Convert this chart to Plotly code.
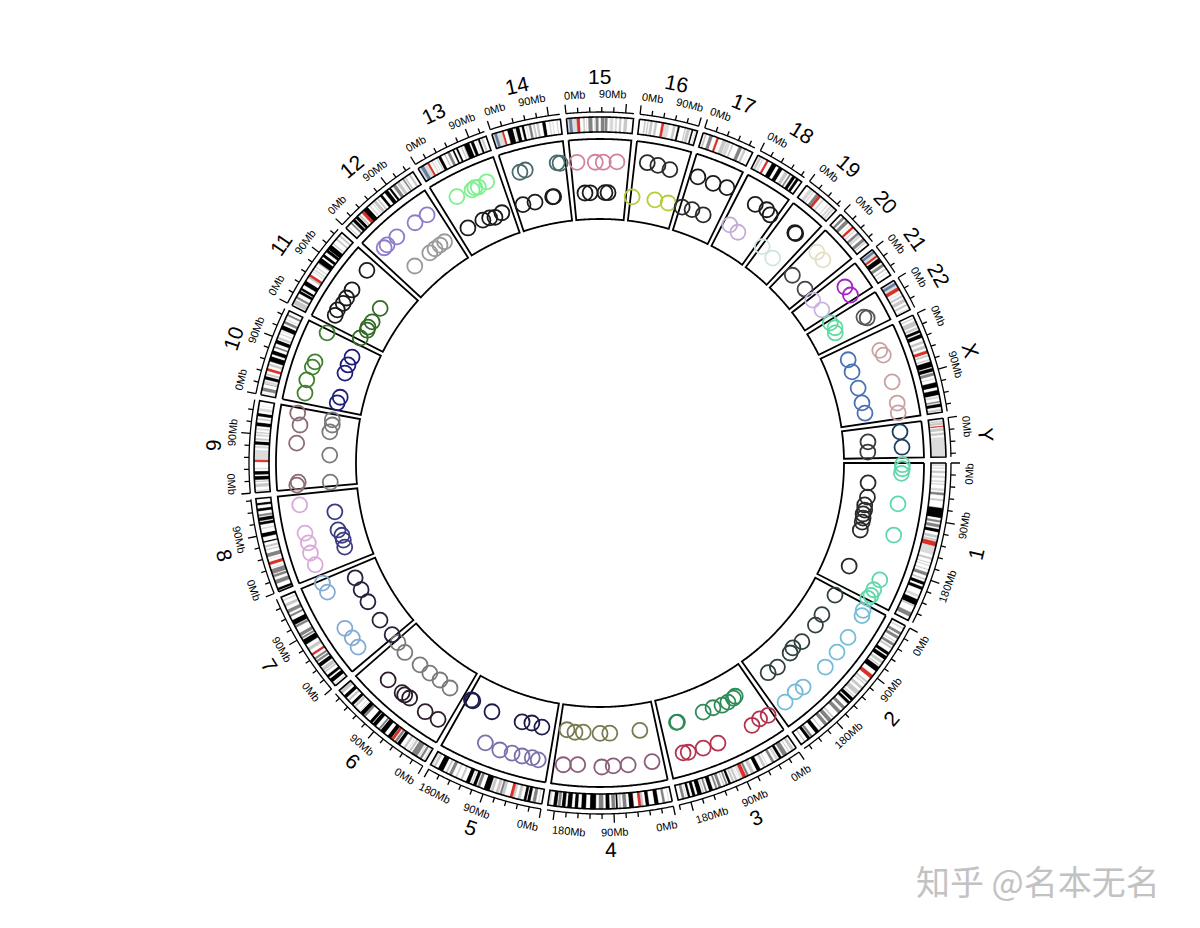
import numpy as np
import plotly.graph_objects as go

# chromosome layout (hg19, Mb)
chrom_names = [str(i) for i in range(1, 23)] + ['X', 'Y']
chrom_len = [249.25, 243.2, 198.02, 191.15, 180.92, 171.12, 159.14, 146.36, 141.21,
             135.53, 135.01, 133.85, 115.17, 107.35, 102.53, 90.35, 81.2, 78.08,
             59.13, 63.03, 48.13, 51.3, 155.27, 59.37]
gap_deg = 1.0

stain_colors = {'n': '#FFFFFF', '25': '#D8D8D8', '50': '#C8C8C8', '75': '#828282',
                '100': '#000000', 'a': '#D92F27', 'v': '#DCDCDC', 's': '#647FA4'}

# cytobands as "end:stain" tokens per chromosome
cytobands = [
    "2.3:n 5.3:25 7.1:n 9.1:25 12.5:n 15.9:50 20.1:n 23.6:25 27.6:n 30:25 32:n 34.3:25 39.6:n 43.7:25 46:n 50:75 56:n 59:50 68.9:n 69.7:50 84.9:100 88.4:n 92:75 94.7:n 99.7:75 102.2:n 107.2:100 111.8:n 116.1:50 117.8:n 120.7:50 121.5:n 128.9:a 142.6:v 147:n 150.3:50 155:n 156.5:50 159.1:n 160.5:50 165.5:n 167.2:50 170.9:n 176:75 180.3:n 182.9:50 185.8:n 190.8:100 193.8:n 198.7:100 207.2:n 211.5:25 214.5:n 224.1:100 224.6:n 227:50 236.6:n 243.7:75 249.25:n",
    "4.4:n 7.1:25 12.2:n 16.7:75 19.2:n 24:75 27.9:n 30:25 32.1:n 36.6:75 38.6:n 41.8:50 47.8:n 52.9:100 55:n 61.3:100 64.1:n 68.6:50 71.5:n 73.5:50 75:n 83.3:100 90.5:n 96.8:a 102.7:n 106:50 107.5:n 110.3:25 114.4:n 118.8:50 122.4:n 129.9:50 132.5:n 135.1:25 136.8:n 142.2:100 144.1:n 148.7:100 149.9:n 150.5:25 154.9:n 159.9:75 163.7:n 169.7:75 178:n 180.6:50 183:n 189.4:75 191.9:n 197.4:75 203.3:n 204.9:50 209:n 215.3:100 221.5:n 225.2:75 226.1:n 231:100 235.1:n 237.3:50 243.2:n",
    "4:n 8.7:50 11.8:n 13.3:50 16.4:n 23.9:75 26.4:n 30.9:100 32.1:n 36.5:25 39.4:n 43.7:75 44.1:n 44.2:25 50.6:n 52.3:25 54.4:n 58.6:50 63.7:n 69.8:100 74.2:n 79.8:50 83.5:n 87.2:75 87.9:n 93.9:a 98.3:v 100:n 100.9:25 102.8:n 106.2:50 107.9:n 111.3:50 113.5:n 117.3:100 119:n 121.9:75 123.8:n 125.8:50 129.2:n 133.7:75 135.7:n 138.7:75 142.8:n 148.9:100 152.1:n 155:75 157:n 159:50 160.7:n 167.6:100 170.9:n 175.7:100 179:n 182.7:100 184.5:n 186:25 187.9:n 192.3:75 198.02:n",
    "4.5:n 6:25 11.3:n 15.2:75 21.3:n 27.7:100 35.8:n 41.2:100 44.6:n 48.2:50 52.7:a 59.5:n 66.6:100 70.5:n 76.3:75 78.9:n 82.4:50 84.1:n 86.9:100 88:n 93.7:75 96.8:n 102.8:100 106.2:n 113.4:75 117.6:n 126.8:100 132.9:n 140.1:100 145.1:n 150.3:100 154.6:n 161.6:100 164.5:n 170.1:100 171.9:n 176.3:75 177.5:n 183.2:100 187.1:n 191.15:25",
    "4.5:n 6.3:25 9.8:n 15:75 18.4:n 23.3:100 24.6:n 28.9:100 33.8:n 38.4:50 42.5:n 46.1:50 50.7:a 58.9:n 62.9:50 63.2:n 66.7:75 68.4:n 73.3:50 76.9:n 81.4:50 82.8:n 92.3:100 98.2:n 102.8:75 104.5:n 109.6:100 111.5:n 113.1:50 115.2:n 121.4:100 127.3:n 130.6:50 136.2:n 139.5:25 144.5:n 149.8:75 152.7:n 155.7:50 159.9:n 168.5:100 172.8:n 176.6:50 177.6:n 180.92:25",
    "2.3:n 4.2:25 7.1:n 10.6:75 11.6:n 13.4:25 15.2:n 25.2:75 27:n 30.4:50 32.1:n 33.5:25 36.6:n 40.5:50 46.2:n 51.8:100 52.9:n 57:75 58.7:n 63.3:a 63.4:n 70:100 75.9:n 83.9:100 84.9:n 88:75 93.1:n 99.5:100 100.6:n 105.5:100 114.6:n 118.3:75 118.4:n 125.1:100 126.1:n 127.1:50 130.3:n 131.2:25 135.2:n 139:50 140.3:n 145:100 149:n 152.5:50 155.5:n 161:100 164.5:n 171.12:50",
    "2.8:n 4.5:25 7.3:n 13.8:100 16.5:n 20.9:100 25.5:n 28:50 28.8:n 35:50 37.2:n 43.3:100 45.4:n 49:75 50.5:n 54:75 58:n 61.7:a 67:n 72.2:50 77.5:n 86.4:100 88.2:n 91.1:75 92.8:n 98:75 107.4:n 111.2:75 112.2:n 120.4:100 126.1:n 129.4:75 132.6:n 138.2:75 143.1:n 147.9:50 152.6:n 155.1:25 159.14:n",
    "2.2:n 6.2:100 12.7:n 19:75 23.3:n 27.4:75 28.8:n 36.5:75 38.3:n 39.7:25 43.1:n 48.1:a 52.2:n 52.6:50 55.5:n 61.6:75 66:n 68:50 70.5:n 73.9:50 78.5:n 80.6:100 86.9:n 93.3:100 99:n 101.6:25 106.2:n 110.5:100 112.1:n 117.7:100 119.2:n 122.5:75 127.3:n 131.5:100 136.4:n 139.9:100 146.36:n",
    "2.2:n 4.6:25 9:n 14.2:50 16.6:n 18.5:50 19.9:n 25.6:100 28:n 33.2:100 36.3:n 38.4:25 47.3:n 50.7:a 65.9:v 68.7:n 72.2:25 74:n 79.2:100 81.1:n 84.1:50 86.9:n 90.4:25 91.8:n 93.9:50 96.6:n 99.3:25 102.6:n 108.2:100 112.1:n 114.9:50 117.7:n 122.5:100 125.8:n 130.3:25 133.5:n 134:25 141.21:n",
    "3:n 3.8:25 6.6:n 12.2:75 17.3:n 18.6:75 18.7:n 22.6:25 24.6:n 29.6:100 31.3:n 34.4:50 38:n 42.3:a 46.1:n 49.9:50 52.9:n 61.2:100 64.5:n 70.6:100 74.9:n 77.7:75 82:n 87.9:100 89.5:n 92.9:50 97:n 99.3:25 101.9:n 103:25 104.9:n 111.8:100 114.9:n 119.1:75 121.7:n 123.1:25 127.5:n 130.6:75 135.53:n",
    "2.8:n 10.7:50 12.7:n 16.2:75 21.7:n 26.1:100 27.2:n 31:100 36.4:n 43.5:100 48.8:n 51.6:50 55.7:a 59.9:n 61.7:25 63.4:n 65.9:25 68.4:n 70.4:25 75.2:n 77.1:50 85.6:100 88.3:n 92.8:100 97.2:n 102.1:100 102.4:n 110.6:100 112.7:n 114.5:50 121.2:n 123.9:50 127.8:n 130.8:50 135.01:n",
    "3.3:n 5.4:25 10.1:n 12.8:75 14.8:n 20:100 21.3:n 26.3:100 27.7:n 30.7:50 33.3:n 38.2:a 46.4:100 49.1:n 51.5:25 54.9:n 56.6:25 58.1:n 63.1:50 65.1:n 67.7:50 71.5:n 75.7:100 80.3:n 86.7:100 89:n 92.6:100 96.2:n 101.6:75 103.8:n 109:50 111.7:n 112.3:50 114.3:n 116.8:75 118.1:n 120.7:50 125.9:n 129.3:50 133.85:n",
    "4.5:v 10:s 16.3:v 19.5:a 23.3:n 25.5:25 27.8:n 28.9:25 32.2:n 34:50 35.5:n 40.1:100 45.2:n 47.7:50 50.9:n 55.3:75 59.6:n 62.3:100 65.7:n 68.6:100 73.3:n 75.4:50 77.2:n 79:50 87.7:100 90:n 95:100 98.2:n 99.3:25 101.7:n 104.8:100 107:n 110.3:50 115.17:n",
    "3.7:v 8.1:s 16.1:v 19.1:a 24.6:n 33.3:100 35.3:n 36.6:50 37.8:n 43.5:100 47.2:n 50.9:100 54.1:n 55.5:25 58.1:n 62.1:75 64.8:n 67.9:50 70.2:n 73.8:50 79.3:n 84.4:100 89.8:n 91.9:25 94.7:n 96.3:25 101.4:n 102.9:50 107.35:n",
    "3.9:v 8.7:s 15.8:v 20.7:a 25.7:n 28.1:50 30.3:n 31.2:25 33.6:n 40.1:75 42.8:n 43.6:25 44.8:n 49.5:75 52.9:n 58.8:75 59:n 63.4:75 66.9:n 67:25 67.2:n 72.4:25 74.9:n 78:25 81.4:n 84.7:50 88.5:n 93.8:50 98:n 102.53:n",
    "7.9:n 10.5:50 12.6:n 14.8:50 16.8:n 21.2:50 24.2:n 28.1:50 34.6:n 38.6:a 47:v 52.6:n 56.7:50 60:n 63.1:100 70.8:n 72.9:50 74.1:n 79.2:50 81.7:n 84.2:100 87.1:n 88.7:25 90.35:n",
    "3.3:n 6.5:50 10.7:n 16:75 22.2:n 25.8:a 31.8:n 38.1:50 38.5:n 44.9:25 47.4:n 50.2:50 58.6:n 64.2:75 67.1:n 70.9:50 74.8:n 75.3:25 81.2:n",
    "2.9:n 7.1:50 8.5:n 10.9:25 15.4:n 19:a 25:n 32.7:100 37.2:n 43.5:100 48.2:n 53.8:50 56.2:n 59:75 61.6:n 66.8:100 68.7:n 73.1:100 78.08:n",
    "6.9:n 12.6:25 13.8:n 16.1:25 19.8:n 24.4:75 28.6:a 32.4:n 35.5:25 38.3:n 38.7:25 43.4:n 45.2:25 48:n 51.4:25 52.6:n 56.3:25 59.13:n",
    "5.1:n 9.2:75 12.1:n 17.9:75 21.3:n 22.3:25 25.6:n 29.4:a 32.1:n 34.4:25 37.6:n 41.7:75 42.1:n 46.4:25 49.8:n 55:75 56.5:n 58.4:50 63.03:n",
    "2.8:v 6.8:s 10.9:v 14.3:a 16.4:n 24:100 26.8:n 31.5:75 35.3:n 37.6:50 41.4:n 42.6:25 48.13:n",
    "3.8:v 8.3:s 12.2:v 17.9:a 22.2:n 23.5:25 25.9:n 29.6:50 32.2:n 37.6:50 41:n 44.2:50 48.4:n 49.4:50 51.3:n",
    "4.3:n 6:50 9.5:n 17.1:50 19.3:n 23:50 24.9:n 29.3:100 31.5:n 37.6:100 42.4:n 46.4:50 49.8:n 54.8:50 58.1:n 63:a 64.6:n 67.8:50 71.8:n 74.1:50 76:n 84.6:100 86.2:n 91.8:100 93.5:n 98.3:75 102.6:n 103.7:50 108.7:n 116.5:100 120.9:n 128.7:100 130.4:n 133.6:25 138:n 140.3:75 142.1:n 147.1:100 150.3:n 153.6:50 155.27:n",
    "2.5:n 3:50 3.8:n 6.1:50 6.6:n 10.1:50 11.6:n 13.4:a 15.1:n 19.8:50 22.1:n 26.2:50 28.8:n 59.37:v",
]

# scatter track: two groups per chromosome (position Mb, value 0..1 within the track)
inner_col = ['#2A2A2A', '#2F4040', '#2E8B57', '#7A7A50', '#1C1C4C', '#7A7A7A', '#22223E', '#3C3C82',
             '#7A7A7A', '#1E1E7A', '#346A26', '#9A9A9A', '#1A1A1A', '#1A1A1A', '#1A1A1A', '#B8CC3A',
             '#2A2A2A', '#C4ACD4', '#CFE6DE', '#444444', '#CAB4E2', '#5EDCA2', '#4A72B4', '#3A3A3A']
inner_pos = [[39, 67, 83, 93, 101, 109, 117, 133, 207], [12, 58, 82, 124, 145, 156, 193, 214],
             [41, 46, 59, 72, 90, 111, 165, 167], [33, 92, 111, 144, 160, 176],
             [25, 46, 65, 127, 170, 173], [31, 56, 80, 105, 143, 166], [5, 42, 85, 112, 138],
             [33, 47, 57, 69, 105], [8, 61, 106, 120, 130], [14, 26, 74, 91, 108],
             [4, 24, 30, 43, 74], [37, 76, 89, 101, 112], [22, 55, 69, 79, 95], [15, 39, 75, 77],
             [22, 32, 61, 67], [3, 48, 75], [4, 24, 48], [13, 34], [2, 32], [15, 52], [6, 32],
             [5, 18, 27], [25, 50, 84, 114, 135], [27, 47]]
inner_val = [[0.31, 0.32, 0.30, 0.31, 0.30, 0.31, 0.31, 0.31, 0.32], [0.32, 0.31, 0.32, 0.32, 0.29, 0.31, 0.33, 0.31],
             [0.32, 0.33, 0.34, 0.34, 0.32, 0.32, 0.33, 0.33], [0.33, 0.33, 0.33, 0.32, 0.33, 0.31],
             [0.33, 0.31, 0.33, 0.34, 0.32, 0.32], [0.33, 0.32, 0.33, 0.33, 0.35, 0.33], [0.32, 0.33, 0.33, 0.33, 0.33],
             [0.31, 0.30, 0.30, 0.33, 0.32], [0.33, 0.33, 0.35, 0.33, 0.34], [0.32, 0.30, 0.33, 0.33, 0.32],
             [0.33, 0.30, 0.31, 0.30, 0.31], [0.33, 0.33, 0.33, 0.33, 0.33], [0.32, 0.32, 0.31, 0.29, 0.31],
             [0.32, 0.31, 0.33, 0.33], [0.33, 0.33, 0.33, 0.33], [0.30, 0.31, 0.31], [0.31, 0.32, 0.31],
             [0.34, 0.31], [0.33, 0.30], [0.31, 0.31], [0.30, 0.32], [0.32, 0.34, 0.31],
             [0.31, 0.30, 0.31, 0.31, 0.32], [0.31, 0.30]]
outer_col = ['#5FD8AA', '#74BCD8', '#B4324C', '#8C5C7C', '#7C70AA', '#2C1C2C', '#82AAD2', '#DAAADA',
             '#8C6C72', '#408030', '#1A1A1A', '#8E7CCA', '#7EF08E', '#4A6A6C', '#D2829A', '#2A2A2A',
             '#1A1A1A', '#1A1A1A', '#1A1A1A', '#E6DEC6', '#A424C4', '#555555', '#C8A2A2', '#1E3C5C']
outer_pos = [[3, 10, 18, 72, 127, 209, 229, 240, 247], [11, 20, 65, 97, 130, 182, 198, 223],
             [8, 24, 41, 108, 135, 162, 171], [20, 62, 88, 108, 150, 175],
             [19, 30, 48, 66, 88, 116], [18, 44, 80, 90, 96, 129], [26, 45, 66, 136, 154],
             [20, 42, 60, 78, 128], [7, 12, 80, 112, 132], [18, 41, 65, 75, 130],
             [19, 29, 44, 55, 72, 115], [20, 27, 49, 89, 114], [32, 61, 67, 73, 90], [26, 36, 93, 98],
             [11, 43, 57, 81], [22, 41, 63], [14, 43, 68], [35, 57, 67], [33, 35], [16, 33], [22, 39],
             [27, 31], [31, 41, 90, 128, 145], [14, 41]]
outer_val = [[0.73, 0.73, 0.72, 0.71, 0.73, 0.74, 0.72, 0.72, 0.70], [0.72, 0.74, 0.74, 0.74, 0.75, 0.73, 0.71, 0.73],
             [0.74, 0.72, 0.74, 0.75, 0.74, 0.73, 0.72], [0.74, 0.74, 0.74, 0.75, 0.73, 0.75],
             [0.74, 0.73, 0.74, 0.74, 0.75, 0.73], [0.74, 0.75, 0.73, 0.74, 0.74, 0.74], [0.75, 0.74, 0.75, 0.72, 0.73],
             [0.73, 0.74, 0.73, 0.74, 0.74], [0.75, 0.73, 0.75, 0.73, 0.78], [0.74, 0.76, 0.74, 0.73, 0.73],
             [0.74, 0.75, 0.73, 0.73, 0.73, 0.73], [0.76, 0.76, 0.75, 0.74, 0.73], [0.73, 0.72, 0.73, 0.72, 0.74],
             [0.72, 0.73, 0.74, 0.73], [0.72, 0.71, 0.71, 0.72], [0.75, 0.74, 0.72], [0.73, 0.72, 0.74],
             [0.72, 0.74, 0.71], [0.72, 0.72], [0.73, 0.72], [0.72, 0.72], [0.72, 0.75],
             [0.72, 0.74, 0.74, 0.74, 0.73], [0.72, 0.73]]

tick_minor = 18
tick_major = 90

# radii in pixels (radial axis 0..400)
R_TRACK_IN, R_TRACK_OUT = 244, 324
R_IDEO_IN, R_IDEO_OUT = 331, 346
R_AXIS = 351
R_TICKLAB = 369
R_NAME = 387
TICK_FONT = 11
FONT = 'Liberation Sans, Arial, sans-serif'

# centre of the circle inside the figure (page body adds an 8px offset)
CX, CY = 592, 455

total = sum(chrom_len)
deg_per_mb = (360 - gap_deg * len(chrom_len)) / total
starts = []
acc = 0.0
for L in chrom_len:
    starts.append(acc)
    acc += L * deg_per_mb + gap_deg


def ang(i, mb):
    return starts[i] + mb * deg_per_mb


def text_angle(theta):
    a = (theta + 90) % 360
    if a > 180:
        a -= 360
    if a > 90:
        a -= 180
    elif a <= -90:
        a += 180
    return a


def text_half_deg(txt, size, r):
    em = {'M': .833}
    w = sum(em.get(c, .556) for c in txt) * size
    return np.rad2deg(w / 2 / r)


fig = go.Figure()

# cytoband bars
th, wd, cols = [], [], []
for i, s in enumerate(cytobands):
    prev = 0.0
    for tok in s.split():
        end, st = tok.split(':')
        end = float(end)
        th.append(ang(i, (prev + end) / 2))
        wd.append((end - prev) * deg_per_mb)
        cols.append(stain_colors[st])
        prev = end
fig.add_trace(go.Barpolar(theta=th, width=wd, r=[R_IDEO_OUT - R_IDEO_IN] * len(th), base=R_IDEO_IN,
                          marker=dict(color=cols, line=dict(color=cols, width=0.4)),
                          hoverinfo='skip', showlegend=False))


def frame(r0, r1):
    tt, rr = [], []
    for i, L in enumerate(chrom_len):
        t = np.linspace(starts[i], ang(i, L), 80)
        tt += list(t) + list(t[::-1]) + [t[0], None]
        rr += [r1] * 80 + [r0] * 80 + [r1, None]
    return tt, rr


for (r0, r1, w) in [(R_IDEO_IN, R_IDEO_OUT, 1.6), (R_TRACK_IN, R_TRACK_OUT, 1.8)]:
    tt, rr = frame(r0, r1)
    fig.add_trace(go.Scatterpolar(theta=tt, r=rr, mode='lines', line=dict(color='black', width=w),
                                  hoverinfo='skip', showlegend=False))

# axis arcs and ticks
at, ar = [], []
for i, L in enumerate(chrom_len):
    t = np.linspace(starts[i], ang(i, L), 80)
    at += list(t) + [None]
    ar += [R_AXIS] * 80 + [None]
    for mb in np.arange(0, L + 0.01, tick_minor):
        tl = 9 if mb % tick_major == 0 else 5
        at += [ang(i, mb), ang(i, mb), None]
        ar += [R_AXIS, R_AXIS + tl, None]
fig.add_trace(go.Scatterpolar(theta=at, r=ar, mode='lines', line=dict(color='black', width=1.3),
                              hoverinfo='skip', showlegend=False))

# scatter points
pt, pr, pc = [], [], []
for i in range(len(chrom_len)):
    for pos, val, col in [(inner_pos[i], inner_val[i], inner_col[i]), (outer_pos[i], outer_val[i], outer_col[i])]:
        for p, v in zip(pos, val):
            pt.append(ang(i, p))
            pr.append(R_TRACK_IN + v * (R_TRACK_OUT - R_TRACK_IN))
            pc.append(col)
fig.add_trace(go.Scatterpolar(theta=pt, r=pr, mode='markers',
                              marker=dict(symbol='circle-open', size=15, color=pc, line=dict(width=1.8)),
                              hoverinfo='skip', showlegend=False))

# invisible cartesian helper for text placement
fig.add_trace(go.Scatter(x=[0], y=[0], mode='markers', marker=dict(opacity=0), hoverinfo='skip', showlegend=False))

annotations = []
for i, L in enumerate(chrom_len):
    majors = list(np.arange(0, L + 0.01, tick_major))
    for k, mb in enumerate(majors):
        txt = '%dMb' % mb
        a = ang(i, mb)
        half = text_half_deg(txt, TICK_FONT, R_TICKLAB)
        if k == 0:
            a += half
        elif k == len(majors) - 1 and a + half > ang(i, L):
            a -= half
        rad = np.deg2rad(a)
        annotations.append(dict(x=R_TICKLAB * np.cos(rad), y=-R_TICKLAB * np.sin(rad), xref='x', yref='y',
                                text=txt, showarrow=False, textangle=text_angle(a),
                                font=dict(family=FONT, size=TICK_FONT, color='black')))
    a = ang(i, L / 2)
    rad = np.deg2rad(a)
    annotations.append(dict(x=R_NAME * np.cos(rad), y=-R_NAME * np.sin(rad), xref='x', yref='y',
                            text=chrom_names[i], showarrow=False, textangle=text_angle(a),
                            font=dict(family=FONT, size=21, color='black')))

annotations.append(dict(x=438, y=-417, xref='x', yref='y', text='知乎 @名本无名', showarrow=False,
                        font=dict(family='Noto Sans CJK SC', size=34, color='#C2C2C2')))

W, H = 1200, 928
fig.update_layout(
    width=W, height=H, margin=dict(l=0, r=0, t=0, b=0),
    paper_bgcolor='white', plot_bgcolor='white', showlegend=False,
    polar=dict(domain=dict(x=[(CX - 400) / W, (CX + 400) / W], y=[(H - CY - 400) / H, (H - CY + 400) / H]),
               bgcolor='rgba(0,0,0,0)', barmode='overlay', bargap=0,
               radialaxis=dict(range=[0, 400], visible=False),
               angularaxis=dict(visible=False, rotation=0, direction='clockwise')),
    xaxis=dict(range=[-CX, W - CX], visible=False, domain=[0, 1]),
    yaxis=dict(range=[-(H - CY), CY], visible=False, domain=[0, 1]),
    annotations=annotations,
)

fig.write_html("out.html")
